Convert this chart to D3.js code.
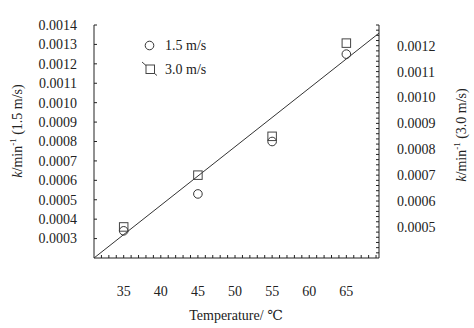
<!DOCTYPE html>
<html><head><meta charset="utf-8">
<script src="https://cdn.jsdelivr.net/npm/d3@7"></script>
<style>
body{margin:0;background:#fff;}
svg{display:block;}
text{font-family:'Liberation Serif','Times New Roman','DejaVu Serif',serif;}
</style></head>
<body>
<svg id="c" width="474" height="328" font-family="Liberation Serif, Times New Roman, serif"></svg>
<script>
const temps = [35, 45, 55, 65];
const k15 = [0.00034, 0.00053, 0.00080, 0.00125];   // left axis (1.5 m/s)
const k30 = [0.00050, 0.00070, 0.00085, 0.00121];   // right axis (3.0 m/s)
const fitT = [31, 69.4];
const fitK = [0.0002, 0.001358];                     // on left axis
const xTickLabels = [35, 40, 45, 50, 55, 60, 65];
const leftTickLabels = [0.0003,0.0004,0.0005,0.0006,0.0007,0.0008,0.0009,0.0010,0.0011,0.0012,0.0013,0.0014];
const rightTickLabels = [0.0005,0.0006,0.0007,0.0008,0.0009,0.0010,0.0011,0.0012];
const seriesNames = ["1.5 m/s", "3.0 m/s"];

const FONT = "Liberation Serif";
const svg = d3.select("#c");
const L = 94, R = 379, T = 25, B = 258;
const x = d3.scaleLinear().domain([31, 69.4]).range([L, R]);
const yL = d3.scaleLinear().domain([0.0002, 0.0014]).range([B, T]);
const yR = d3.scaleLinear().domain([0.00038, 0.00128]).range([B, T]);
const axisCol = "#222";

// axes lines
svg.append("line").attr("x1", L).attr("x2", L).attr("y1", T).attr("y2", B).attr("stroke", axisCol);
svg.append("line").attr("x1", R).attr("x2", R).attr("y1", T).attr("y2", B).attr("stroke", axisCol);
svg.append("line").attr("x1", L).attr("x2", R).attr("y1", B).attr("y2", B).attr("stroke", axisCol);

// x ticks every degree, inward
const xMinor = d3.range(32, 70, 1);
svg.append("g").selectAll("line").data(xMinor).join("line")
  .attr("x1", d => x(d)).attr("x2", d => x(d)).attr("y1", B).attr("y2", B - 3)
  .attr("stroke", axisCol);
svg.append("g").selectAll("text").data(xTickLabels).join("text")
  .attr("x", d => x(d)).attr("y", 296).attr("text-anchor", "middle")
  .attr("font-family", FONT).attr("font-size", 14).attr("fill", "#222").text(d => d);

// left ticks
svg.append("g").selectAll("line").data(leftTickLabels).join("line")
  .attr("x1", L).attr("x2", L + 3).attr("y1", d => yL(d)).attr("y2", d => yL(d))
  .attr("stroke", axisCol);
svg.append("g").selectAll("text").data(leftTickLabels).join("text")
  .attr("x", 77).attr("y", d => yL(d)).attr("dy", "0.35em").attr("text-anchor", "end")
  .attr("font-family", FONT).attr("font-size", 14).attr("fill", "#222").text(d => d.toFixed(4));

// right ticks (minor every 0.00002), inward
const rMinor = d3.range(0.00040, 0.001281, 0.00002);
svg.append("g").selectAll("line").data(rMinor).join("line")
  .attr("x1", R).attr("x2", R - 3).attr("y1", d => yR(d)).attr("y2", d => yR(d))
  .attr("stroke", axisCol);
svg.append("g").selectAll("text").data(rightTickLabels).join("text")
  .attr("x", 397).attr("y", d => yR(d)).attr("dy", "0.35em").attr("text-anchor", "start")
  .attr("font-family", FONT).attr("font-size", 14).attr("fill", "#222").text(d => d.toFixed(4));

// fit line
svg.append("path")
  .datum(fitT.map((t, i) => [t, fitK[i]]))
  .attr("d", d3.line().x(d => x(d[0])).y(d => yL(d[1])))
  .attr("stroke", "#333").attr("stroke-width", 1).attr("fill", "none");

// circles (left)
svg.append("g").selectAll("circle").data(temps).join("circle")
  .attr("cx", (d) => x(d)).attr("cy", (d, i) => yL(k15[i])).attr("r", 4.3)
  .attr("fill", "none").attr("stroke", "#333").attr("stroke-width", 1);
// squares (right)
const s = 8.5;
svg.append("g").selectAll("rect").data(temps).join("rect")
  .attr("x", d => x(d) - s / 2).attr("y", (d, i) => yR(k30[i]) - s / 2)
  .attr("width", s).attr("height", s)
  .attr("fill", "none").attr("stroke", "#444").attr("stroke-width", 1);

// legend
svg.append("circle").attr("cx", 149.5).attr("cy", 45.5).attr("r", 4.3)
  .attr("fill", "none").attr("stroke", "#333");
svg.append("rect").attr("x", 146).attr("y", 65).attr("width", s).attr("height", s)
  .attr("fill", "none").attr("stroke", "#444");
svg.append("line").attr("x1", 142).attr("y1", 62).attr("x2", 146).attr("y2", 65.5)
  .attr("stroke", "#444");
svg.append("line").attr("x1", 154.5).attr("y1", 73.5).attr("x2", 157).attr("y2", 75.5)
  .attr("stroke", "#444");
svg.append("text").attr("x", 165).attr("y", 50).attr("font-family", FONT).attr("font-size", 14).attr("fill", "#222").text(seriesNames[0]);
svg.append("text").attr("x", 165).attr("y", 74).attr("font-family", FONT).attr("font-size", 14).attr("fill", "#222").text(seriesNames[1]);

// axis titles
svg.append("text").attr("x", 236).attr("y", 320).attr("text-anchor", "middle")
  .attr("font-family", FONT).attr("font-size", 14).attr("fill", "#222").text("Temperature/ ℃");

function yTitle(xp, yp, speed) {
  const t = svg.append("text").attr("transform", `translate(${xp},${yp}) rotate(-90)`)
    .attr("text-anchor", "middle").attr("font-family", FONT).attr("font-size", 14).attr("fill", "#222");
  t.append("tspan").attr("font-style", "italic").text("k");
  t.append("tspan").text("/min");
  t.append("tspan").attr("font-size", 9).attr("dy", -6).text("-1");
  t.append("tspan").attr("dy", 6).text(" (" + speed + ")");
}
yTitle(22, 131, seriesNames[0]);
yTitle(466, 135, seriesNames[1]);
</script>
</body></html>
